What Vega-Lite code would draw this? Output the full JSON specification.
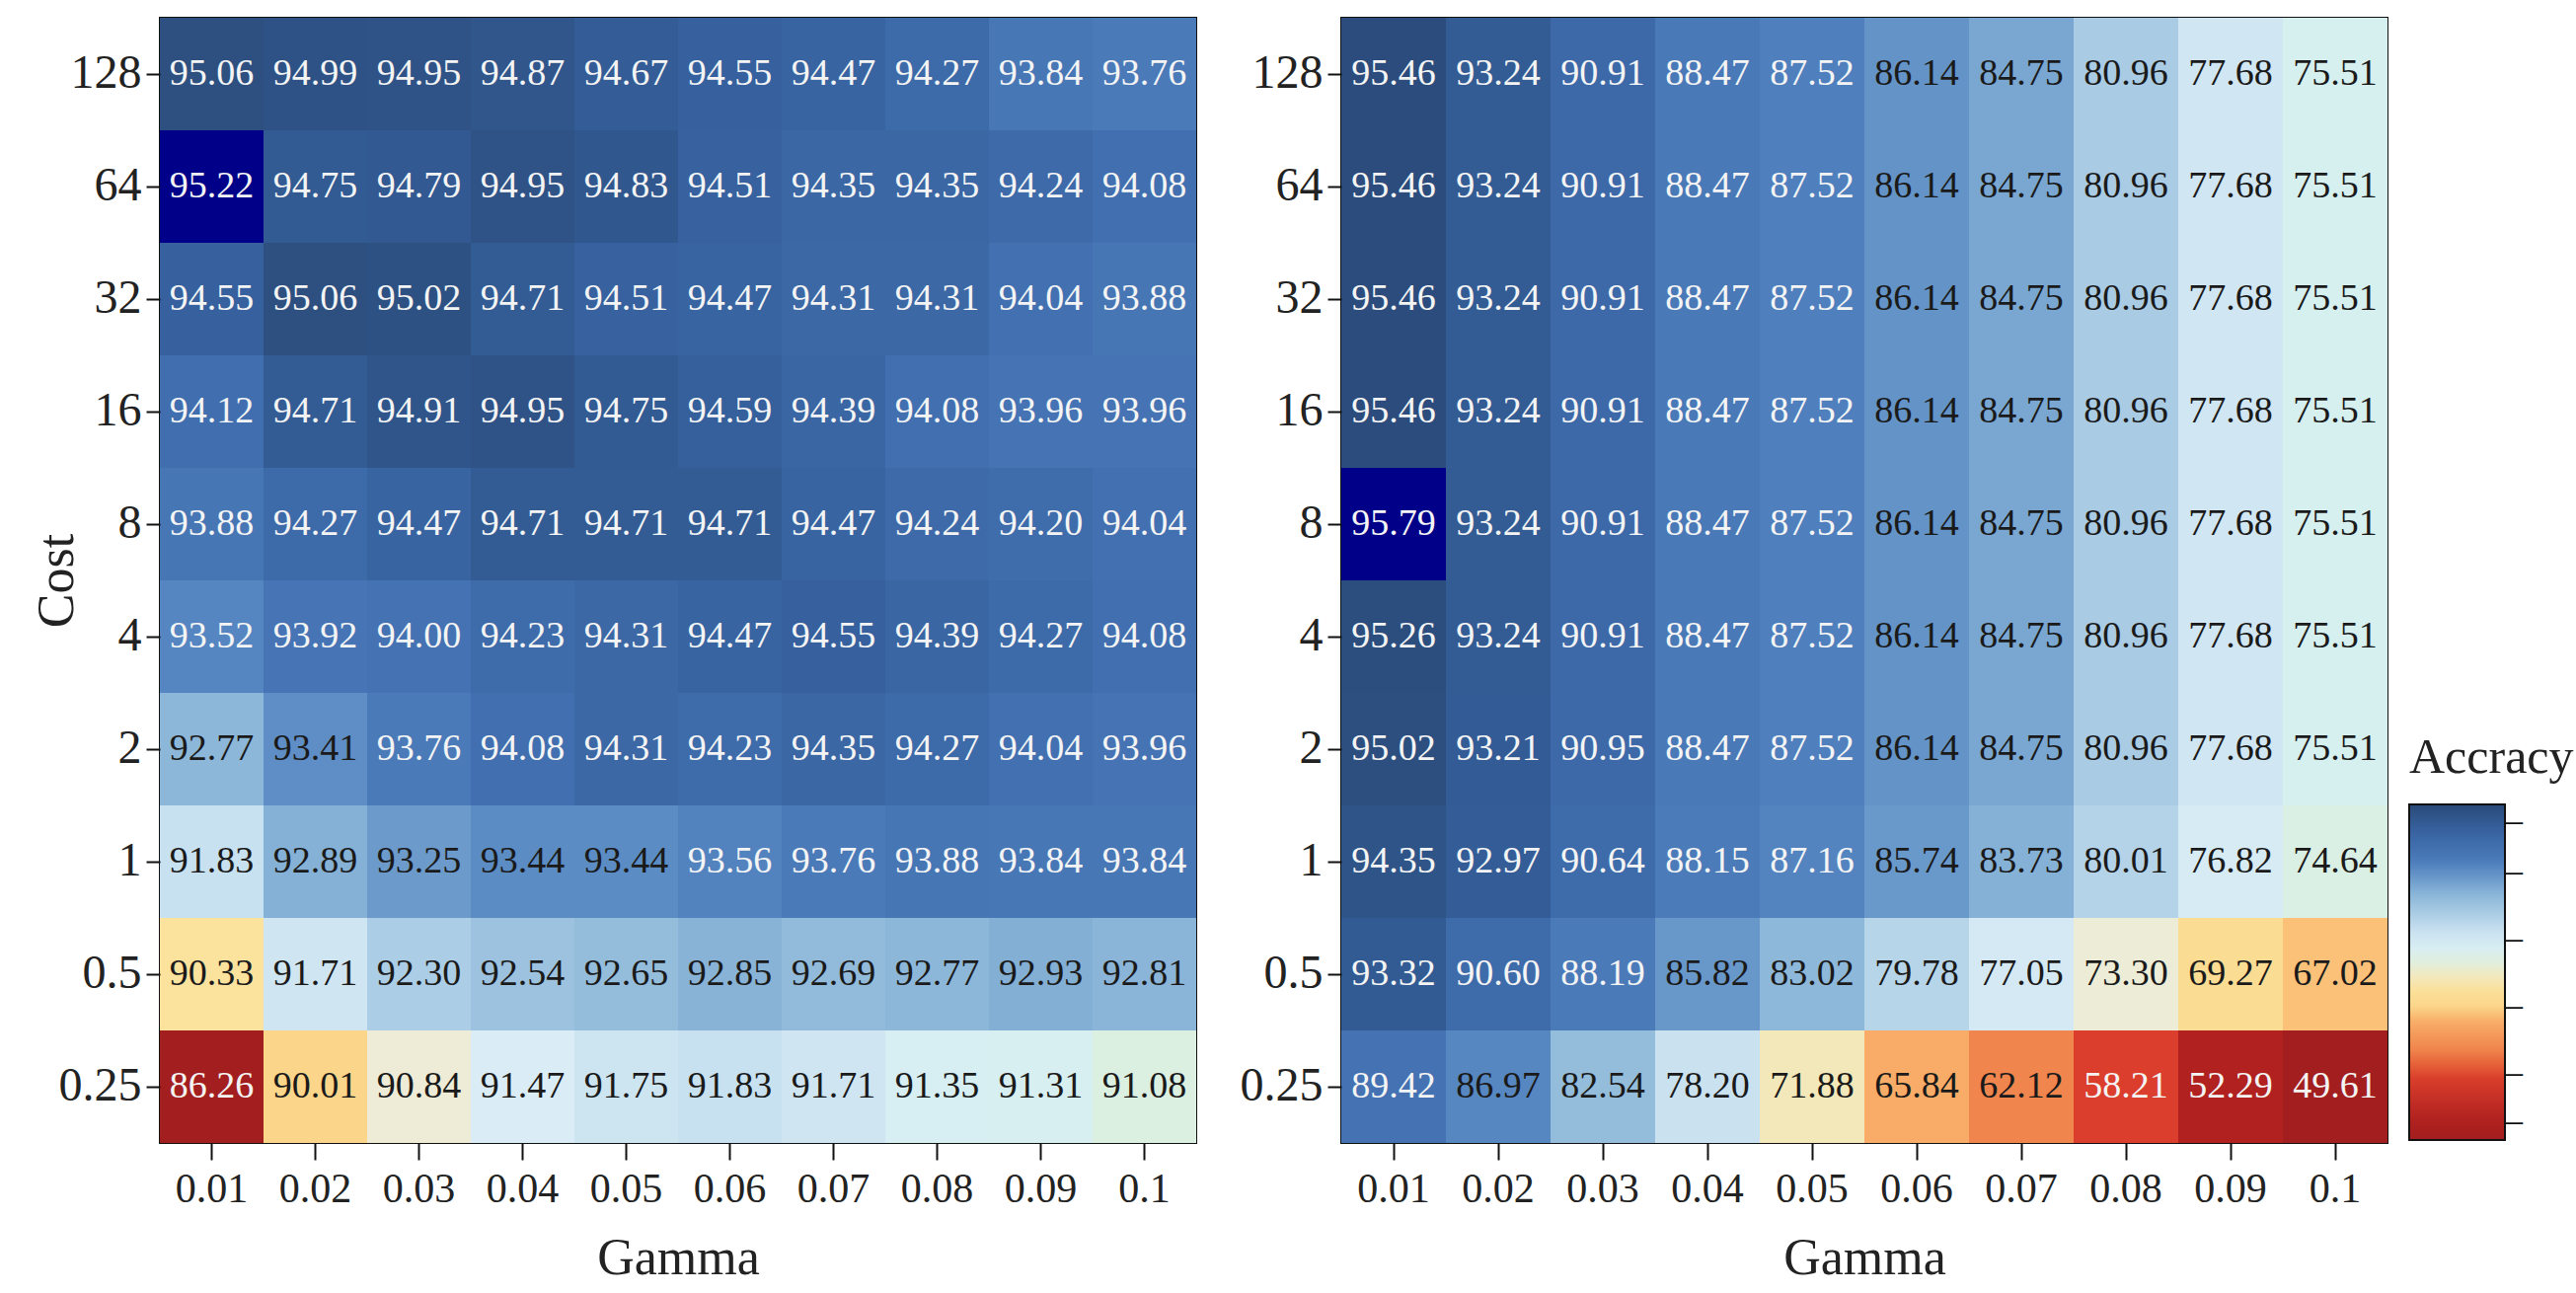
{
 "$schema": "https://vega.github.io/schema/vega-lite/v6.json",
 "background": "white",
 "padding": {"left": 30, "top": 17, "right": 0, "bottom": 0},
 "config": {
  "font": "Liberation Serif",
  "view": {"stroke": "#111", "strokeWidth": 2},
  "axis": {"labelFont": "Liberation Serif", "titleFont": "Liberation Serif", "labelColor": "#222", "titleColor": "#222", "tickColor": "#111", "tickWidth": 2, "domain": false, "grid": false, "titleFontWeight": "normal"},
  "concat": {"spacing": 42}
 },
 "datasets": {
  "left": [
   {"c":"128","g":"0.01","a":95.06},{"c":"128","g":"0.02","a":94.99},{"c":"128","g":"0.03","a":94.95},{"c":"128","g":"0.04","a":94.87},{"c":"128","g":"0.05","a":94.67},{"c":"128","g":"0.06","a":94.55},{"c":"128","g":"0.07","a":94.47},{"c":"128","g":"0.08","a":94.27},{"c":"128","g":"0.09","a":93.84},{"c":"128","g":"0.1","a":93.76},
   {"c":"64","g":"0.01","a":95.22},{"c":"64","g":"0.02","a":94.75},{"c":"64","g":"0.03","a":94.79},{"c":"64","g":"0.04","a":94.95},{"c":"64","g":"0.05","a":94.83},{"c":"64","g":"0.06","a":94.51},{"c":"64","g":"0.07","a":94.35},{"c":"64","g":"0.08","a":94.35},{"c":"64","g":"0.09","a":94.24},{"c":"64","g":"0.1","a":94.08},
   {"c":"32","g":"0.01","a":94.55},{"c":"32","g":"0.02","a":95.06},{"c":"32","g":"0.03","a":95.02},{"c":"32","g":"0.04","a":94.71},{"c":"32","g":"0.05","a":94.51},{"c":"32","g":"0.06","a":94.47},{"c":"32","g":"0.07","a":94.31},{"c":"32","g":"0.08","a":94.31},{"c":"32","g":"0.09","a":94.04},{"c":"32","g":"0.1","a":93.88},
   {"c":"16","g":"0.01","a":94.12},{"c":"16","g":"0.02","a":94.71},{"c":"16","g":"0.03","a":94.91},{"c":"16","g":"0.04","a":94.95},{"c":"16","g":"0.05","a":94.75},{"c":"16","g":"0.06","a":94.59},{"c":"16","g":"0.07","a":94.39},{"c":"16","g":"0.08","a":94.08},{"c":"16","g":"0.09","a":93.96},{"c":"16","g":"0.1","a":93.96},
   {"c":"8","g":"0.01","a":93.88},{"c":"8","g":"0.02","a":94.27},{"c":"8","g":"0.03","a":94.47},{"c":"8","g":"0.04","a":94.71},{"c":"8","g":"0.05","a":94.71},{"c":"8","g":"0.06","a":94.71},{"c":"8","g":"0.07","a":94.47},{"c":"8","g":"0.08","a":94.24},{"c":"8","g":"0.09","a":94.20},{"c":"8","g":"0.1","a":94.04},
   {"c":"4","g":"0.01","a":93.52},{"c":"4","g":"0.02","a":93.92},{"c":"4","g":"0.03","a":94.00},{"c":"4","g":"0.04","a":94.23},{"c":"4","g":"0.05","a":94.31},{"c":"4","g":"0.06","a":94.47},{"c":"4","g":"0.07","a":94.55},{"c":"4","g":"0.08","a":94.39},{"c":"4","g":"0.09","a":94.27},{"c":"4","g":"0.1","a":94.08},
   {"c":"2","g":"0.01","a":92.77},{"c":"2","g":"0.02","a":93.41},{"c":"2","g":"0.03","a":93.76},{"c":"2","g":"0.04","a":94.08},{"c":"2","g":"0.05","a":94.31},{"c":"2","g":"0.06","a":94.23},{"c":"2","g":"0.07","a":94.35},{"c":"2","g":"0.08","a":94.27},{"c":"2","g":"0.09","a":94.04},{"c":"2","g":"0.1","a":93.96},
   {"c":"1","g":"0.01","a":91.83},{"c":"1","g":"0.02","a":92.89},{"c":"1","g":"0.03","a":93.25},{"c":"1","g":"0.04","a":93.44},{"c":"1","g":"0.05","a":93.44},{"c":"1","g":"0.06","a":93.56},{"c":"1","g":"0.07","a":93.76},{"c":"1","g":"0.08","a":93.88},{"c":"1","g":"0.09","a":93.84},{"c":"1","g":"0.1","a":93.84},
   {"c":"0.5","g":"0.01","a":90.33},{"c":"0.5","g":"0.02","a":91.71},{"c":"0.5","g":"0.03","a":92.30},{"c":"0.5","g":"0.04","a":92.54},{"c":"0.5","g":"0.05","a":92.65},{"c":"0.5","g":"0.06","a":92.85},{"c":"0.5","g":"0.07","a":92.69},{"c":"0.5","g":"0.08","a":92.77},{"c":"0.5","g":"0.09","a":92.93},{"c":"0.5","g":"0.1","a":92.81},
   {"c":"0.25","g":"0.01","a":86.26},{"c":"0.25","g":"0.02","a":90.01},{"c":"0.25","g":"0.03","a":90.84},{"c":"0.25","g":"0.04","a":91.47},{"c":"0.25","g":"0.05","a":91.75},{"c":"0.25","g":"0.06","a":91.83},{"c":"0.25","g":"0.07","a":91.71},{"c":"0.25","g":"0.08","a":91.35},{"c":"0.25","g":"0.09","a":91.31},{"c":"0.25","g":"0.1","a":91.08}
  ],
  "right": [
   {"c":"128","g":"0.01","a":95.46},{"c":"128","g":"0.02","a":93.24},{"c":"128","g":"0.03","a":90.91},{"c":"128","g":"0.04","a":88.47},{"c":"128","g":"0.05","a":87.52},{"c":"128","g":"0.06","a":86.14},{"c":"128","g":"0.07","a":84.75},{"c":"128","g":"0.08","a":80.96},{"c":"128","g":"0.09","a":77.68},{"c":"128","g":"0.1","a":75.51},
   {"c":"64","g":"0.01","a":95.46},{"c":"64","g":"0.02","a":93.24},{"c":"64","g":"0.03","a":90.91},{"c":"64","g":"0.04","a":88.47},{"c":"64","g":"0.05","a":87.52},{"c":"64","g":"0.06","a":86.14},{"c":"64","g":"0.07","a":84.75},{"c":"64","g":"0.08","a":80.96},{"c":"64","g":"0.09","a":77.68},{"c":"64","g":"0.1","a":75.51},
   {"c":"32","g":"0.01","a":95.46},{"c":"32","g":"0.02","a":93.24},{"c":"32","g":"0.03","a":90.91},{"c":"32","g":"0.04","a":88.47},{"c":"32","g":"0.05","a":87.52},{"c":"32","g":"0.06","a":86.14},{"c":"32","g":"0.07","a":84.75},{"c":"32","g":"0.08","a":80.96},{"c":"32","g":"0.09","a":77.68},{"c":"32","g":"0.1","a":75.51},
   {"c":"16","g":"0.01","a":95.46},{"c":"16","g":"0.02","a":93.24},{"c":"16","g":"0.03","a":90.91},{"c":"16","g":"0.04","a":88.47},{"c":"16","g":"0.05","a":87.52},{"c":"16","g":"0.06","a":86.14},{"c":"16","g":"0.07","a":84.75},{"c":"16","g":"0.08","a":80.96},{"c":"16","g":"0.09","a":77.68},{"c":"16","g":"0.1","a":75.51},
   {"c":"8","g":"0.01","a":95.79},{"c":"8","g":"0.02","a":93.24},{"c":"8","g":"0.03","a":90.91},{"c":"8","g":"0.04","a":88.47},{"c":"8","g":"0.05","a":87.52},{"c":"8","g":"0.06","a":86.14},{"c":"8","g":"0.07","a":84.75},{"c":"8","g":"0.08","a":80.96},{"c":"8","g":"0.09","a":77.68},{"c":"8","g":"0.1","a":75.51},
   {"c":"4","g":"0.01","a":95.26},{"c":"4","g":"0.02","a":93.24},{"c":"4","g":"0.03","a":90.91},{"c":"4","g":"0.04","a":88.47},{"c":"4","g":"0.05","a":87.52},{"c":"4","g":"0.06","a":86.14},{"c":"4","g":"0.07","a":84.75},{"c":"4","g":"0.08","a":80.96},{"c":"4","g":"0.09","a":77.68},{"c":"4","g":"0.1","a":75.51},
   {"c":"2","g":"0.01","a":95.02},{"c":"2","g":"0.02","a":93.21},{"c":"2","g":"0.03","a":90.95},{"c":"2","g":"0.04","a":88.47},{"c":"2","g":"0.05","a":87.52},{"c":"2","g":"0.06","a":86.14},{"c":"2","g":"0.07","a":84.75},{"c":"2","g":"0.08","a":80.96},{"c":"2","g":"0.09","a":77.68},{"c":"2","g":"0.1","a":75.51},
   {"c":"1","g":"0.01","a":94.35},{"c":"1","g":"0.02","a":92.97},{"c":"1","g":"0.03","a":90.64},{"c":"1","g":"0.04","a":88.15},{"c":"1","g":"0.05","a":87.16},{"c":"1","g":"0.06","a":85.74},{"c":"1","g":"0.07","a":83.73},{"c":"1","g":"0.08","a":80.01},{"c":"1","g":"0.09","a":76.82},{"c":"1","g":"0.1","a":74.64},
   {"c":"0.5","g":"0.01","a":93.32},{"c":"0.5","g":"0.02","a":90.60},{"c":"0.5","g":"0.03","a":88.19},{"c":"0.5","g":"0.04","a":85.82},{"c":"0.5","g":"0.05","a":83.02},{"c":"0.5","g":"0.06","a":79.78},{"c":"0.5","g":"0.07","a":77.05},{"c":"0.5","g":"0.08","a":73.30},{"c":"0.5","g":"0.09","a":69.27},{"c":"0.5","g":"0.1","a":67.02},
   {"c":"0.25","g":"0.01","a":89.42},{"c":"0.25","g":"0.02","a":86.97},{"c":"0.25","g":"0.03","a":82.54},{"c":"0.25","g":"0.04","a":78.20},{"c":"0.25","g":"0.05","a":71.88},{"c":"0.25","g":"0.06","a":65.84},{"c":"0.25","g":"0.07","a":62.12},{"c":"0.25","g":"0.08","a":58.21},{"c":"0.25","g":"0.09","a":52.29},{"c":"0.25","g":"0.1","a":49.61}
  ]
 },
 "resolve": {"scale": {"color": "independent"}, "legend": {"color": "independent"}},
 "hconcat": [
  {
   "data": {"name": "left"},
   "width": 1050,
   "height": 1140,
   "encoding": {
    "x": {"field": "g", "type": "ordinal", "sort": ["0.01","0.02","0.03","0.04","0.05","0.06","0.07","0.08","0.09","0.1"], "title": "Gamma", "scale": {"paddingInner": 0, "paddingOuter": 0},
      "axis": {"labelAngle": 0, "labelFontSize": 42, "tickSize": 17, "labelPadding": 9, "titleFontSize": 52, "titlePadding": 24}},
    "y": {"field": "c", "type": "ordinal", "sort": ["128","64","32","16","8","4","2","1","0.5","0.25"], "title": "Cost", "scale": {"paddingInner": 0, "paddingOuter": 0},
      "axis": {"labelFontSize": 48, "tickSize": 14, "labelPadding": 5, "titleFontSize": 52, "titlePadding": 8, "maxExtent": 70}}
   },
   "layer": [
    {"mark": {"type": "rect"},
     "encoding": {"color": {"field": "a", "type": "quantitative", "legend": null,
       "condition": {"test": "datum.a === 95.22", "value": "#000088"},
       "scale": {"domain": [86.26, 86.798, 87.962, 88.679, 89.396, 89.665, 90.023, 90.337, 90.83, 91.457, 91.726, 92.353, 93.07, 93.607, 94.055, 94.593, 95.22],
                 "range": ["#a31e1f", "#b0211f", "#dc3f2c", "#f0854e", "#f8ab66", "#fbc37b", "#fbd68a", "#fbe29d", "#efecd6", "#dbedf6", "#cfe5f2", "#a8cbe4", "#7aa8d2", "#4f7fbd", "#4270b0", "#35609c", "#2a4a78"]}}}},
    {"mark": {"type": "text", "fontSize": 38, "font": "Liberation Serif"},
     "encoding": {"text": {"field": "a", "type": "quantitative", "format": ".2f"},
       "color": {"condition": {"test": "datum.a >= 93.5 || datum.a < 87", "value": "#f4f4f4"}, "value": "#1a1a1a"}}}
   ]
  },
  {
   "data": {"name": "right"},
   "width": 1060,
   "height": 1140,
   "encoding": {
    "x": {"field": "g", "type": "ordinal", "sort": ["0.01","0.02","0.03","0.04","0.05","0.06","0.07","0.08","0.09","0.1"], "title": "Gamma", "scale": {"paddingInner": 0, "paddingOuter": 0},
      "axis": {"labelAngle": 0, "labelFontSize": 42, "tickSize": 17, "labelPadding": 9, "titleFontSize": 52, "titlePadding": 24}},
    "y": {"field": "c", "type": "ordinal", "sort": ["128","64","32","16","8","4","2","1","0.5","0.25"], "title": null, "scale": {"paddingInner": 0, "paddingOuter": 0},
      "axis": {"labelFontSize": 48, "tickSize": 14, "labelPadding": 5}}
   },
   "layer": [
    {"mark": {"type": "rect"},
     "encoding": {"color": {"field": "a", "type": "quantitative",
       "condition": {"test": "datum.a === 95.79", "value": "#000088"},
       "scale": {"domain": [49.61, 52.381, 58.384, 62.079, 65.773, 67.158, 68.005, 70.622, 73.162, 76.394, 77.78, 81.012, 84.707, 87.478, 89.787, 92.556, 95.79],
                 "range": ["#a31e1f", "#b0211f", "#dc3f2c", "#f0854e", "#f8ab66", "#fbc37b", "#fbd68a", "#fbe29d", "#efecd6", "#dbedf6", "#cfe5f2", "#a8cbe4", "#7aa8d2", "#4f7fbd", "#4270b0", "#35609c", "#2a4a78"]},
       "legend": {"orient": "none", "legendX": 1082, "legendY": 725, "direction": "vertical", "padding": 0,
         "title": "Accracy", "titleFont": "Liberation Serif", "titleFontSize": 50, "titleFontWeight": "normal", "titleColor": "#222", "titlePadding": 22,
         "gradientLength": 340, "gradientThickness": 97, "gradientStrokeColor": "#111", "gradientStrokeWidth": 2,
         "values": [49.61, 58.846, 68.082, 77.318, 86.554, 95.79], "labelExpr": "'–'", "labelFontSize": 36, "labelOffset": 0,
         "labelBaseline": "middle", "labelOverlap": false, "labelColor": "#111", "labelFont": "Liberation Serif"}}}},
    {"mark": {"type": "text", "fontSize": 38, "font": "Liberation Serif"},
     "encoding": {"text": {"field": "a", "type": "quantitative", "format": ".2f"},
       "color": {"condition": {"test": "datum.a >= 87 || datum.a < 60", "value": "#f4f4f4"}, "value": "#1a1a1a"}}}
   ]
  }
 ]
}
